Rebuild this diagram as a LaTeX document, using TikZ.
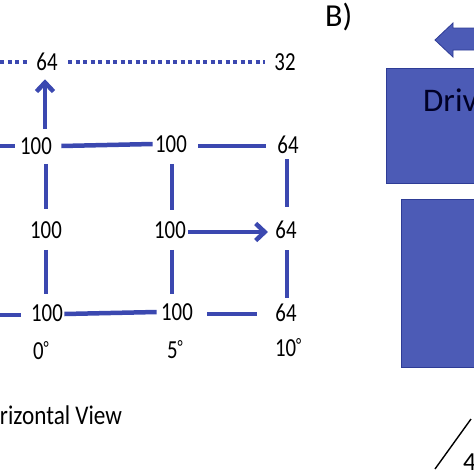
\documentclass[tikz,border=0pt]{standalone}
\usepackage{fontspec}
\setmainfont{Carlito}
\usetikzlibrary{arrows.meta}
\definecolor{lnblue}{RGB}{59,72,176}
\definecolor{boxblue}{RGB}{76,91,182}
\definecolor{boxedge}{RGB}{46,60,150}
\newcommand{\hsq}[1]{\scalebox{0.8}[1]{#1}}
\newcommand{\degr}{\raisebox{5pt}{\fontsize{19}{19}\selectfont °}}
\tikzset{
  num/.style={font=\fontsize{26}{26}\selectfont, inner sep=0pt, outer sep=0pt},
  ln/.style={draw=lnblue, line width=4.5pt},
  dotln/.style={draw=lnblue, line width=4.5pt, dash pattern=on 4pt off 3.5pt},
  arr/.style={ln, -{Straight Barb[length=9pt,width=17pt]}},
  bigbox/.style={fill=boxblue, draw=boxedge, line width=0.8pt},
}
\begin{document}
\begin{tikzpicture}[x=1pt,y=-1pt]
\useasboundingbox (0,0) rectangle (474,474);
\clip (0,0) rectangle (474,474);
% row 1
\node[num] (n1) at (47,62) {\hsq{64}};
\node[num] (n1b) at (285,62) {\hsq{32}};
\coordinate (l1) at (0,62);
% row 2
\node[num] (r2a) at (36,146) {\hsq{100}};
\node[num] (r2b) at (171,144) {\hsq{100}};
\node[num] (r2c) at (288,145) {\hsq{64}};
\coordinate (l2) at (0,146);
% row 3
\node[num] (r3a) at (46,230) {\hsq{100}};
\node[num] (r3b) at (170,230) {\hsq{100}};
\node[num] (r3c) at (286,230) {\hsq{64}};
% row 4
\node[num] (r4a) at (47,313) {\hsq{100}};
\node[num] (r4b) at (177,312) {\hsq{100}};
\node[num] (r4c) at (286,313) {\hsq{64}};
\coordinate (l4) at (0,315);
% degree labels
\node[num, anchor=base west] (d0) at (33,359) {\hsq{0\degr}};
\node[num, anchor=base west] (d5) at (167,358) {\hsq{5\degr}};
\node[num, anchor=base west] (d10) at (275,356) {\hsq{10\degr}};
\node[num, font=\fontsize{27}{27}\selectfont, anchor=base west] (hv) at (0,424) {\scalebox{0.86}[1]{rizontal View}};

% dotted top line
\draw[dotln] (l1) -- ([xshift=-9.5pt]n1.west);
\draw[dotln] ([xshift=10.5pt]n1.east) -- ([xshift=-9.5pt]n1b.west);
% arrow up
\draw[arr] ([xshift=9pt,yshift=8.4pt]r2a.north) -- ([xshift=-2pt,yshift=-8.4pt]n1.south);
% row 2 lines
\draw[ln] (l2) -- ([xshift=-5.5pt]r2a.west);
\draw[ln] ([xshift=9.5pt]r2a.east) -- ([xshift=-2.5pt]r2b.west);
\draw[ln] ([xshift=11.5pt,yshift=-2pt]r2b.east) -- ([xshift=-11.5pt,yshift=-1pt]r2c.west);
% verticals row2-row3
\draw[ln] ([xshift=10pt,yshift=-9.4pt]r2a.south) -- ([yshift=12.4pt]r3a.north);
\draw[ln] ([xshift=1pt,yshift=-11.4pt]r2b.south) -- ([xshift=2pt,yshift=11.4pt]r3b.north);
\draw[ln] ([xshift=-1pt,yshift=-5.4pt]r2c.south) -- ([xshift=1pt,yshift=14.4pt]r3c.north);
% row 3 arrow
\draw[arr] ([xshift=2.5pt,yshift=-2pt]r3b.east) -- ([xshift=-7.5pt,yshift=-2pt]r3c.west);
% verticals row3-row4
\draw[ln] ([yshift=-11.4pt]r3a.south) -- ([xshift=-1pt,yshift=10.4pt]r4a.north);
\draw[ln] ([xshift=2pt,yshift=-11.4pt]r3b.south) -- ([xshift=-5pt,yshift=9.4pt]r4b.north);
\draw[ln] ([xshift=1pt,yshift=-11.4pt]r3c.south) -- ([xshift=1pt,yshift=6.4pt]r4c.north);
% row 4 lines
\draw[ln] (l4) -- ([xshift=-10.5pt,yshift=-2pt]r4a.west);
\draw[ln] ([xshift=1.5pt,yshift=-1pt]r4a.east) -- ([xshift=-4.5pt]r4b.west);
\draw[ln] ([xshift=14.5pt,yshift=-2pt]r4b.east) -- ([xshift=-18.5pt,yshift=-1pt]r4c.west);

% B) panel
\node[font=\fontsize{32}{32}\selectfont, inner sep=0pt, anchor=base west] (blab) at (325,26) {B)};
\draw[bigbox] (435,40) -- (453,23) -- (453,28) -- (480,28) -- (480,50) -- (453,50) -- (453,57) -- cycle;
\node[bigbox, minimum width=94pt, minimum height=115pt, anchor=north west, inner sep=0pt] (box1) at (386,68) {};
\node[bigbox, minimum width=79pt, minimum height=168pt, anchor=north west, inner sep=0pt] (box2) at (401,199) {};
\node[font=\fontsize{33}{33}\selectfont, text=black!85!blue, inner sep=0pt, anchor=base west] (drv) at (423,111) {Driv};
\coordinate (s1) at (435,469);
\coordinate (s2) at (471,419);
\draw[black, line width=1.4pt] (s1) -- (s2);
\node[num, anchor=base west] (four) at (463,470) {4};
\end{tikzpicture}
\end{document}
